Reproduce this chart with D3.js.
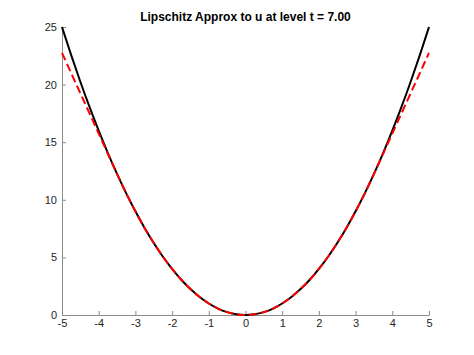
<!DOCTYPE html>
<html>
<head>
<meta charset="utf-8">
<script src="https://cdn.jsdelivr.net/npm/d3@7"></script>
<style>
  body { margin: 0; background: #fff; }
  svg { display: block; }
</style>
</head>
<body>
<script>
// sample points along x
var xs = [-5, -4.75, -4.5, -4.25, -4, -3.75, -3.5, -3.25, -3, -2.75, -2.5, -2.25, -2, -1.75, -1.5, -1.25, -1, -0.75, -0.5, -0.25,
          0, 0.25, 0.5, 0.75, 1, 1.25, 1.5, 1.75, 2, 2.25, 2.5, 2.75, 3, 3.25, 3.5, 3.75, 4, 4.25, 4.5, 4.75, 5];
// u (black solid)
var uVals = [25, 22.56, 20.25, 18.06, 16, 14.06, 12.25, 10.56, 9, 7.56, 6.25, 5.06, 4, 3.06, 2.25, 1.56, 1, 0.56, 0.25, 0.06,
             0, 0.06, 0.25, 0.56, 1, 1.56, 2.25, 3.06, 4, 5.06, 6.25, 7.56, 9, 10.56, 12.25, 14.06, 16, 18.06, 20.25, 22.56, 25];
// Lipschitz approx (red dashed)
var approxVals = [22.75, 21, 19.25, 17.5, 15.75, 14, 12.25, 10.56, 9, 7.56, 6.25, 5.06, 4, 3.06, 2.25, 1.56, 1, 0.56, 0.25, 0.06,
                  0, 0.06, 0.25, 0.56, 1, 1.56, 2.25, 3.06, 4, 5.06, 6.25, 7.56, 9, 10.56, 12.25, 14, 15.75, 17.5, 19.25, 21, 22.75];
var xTicks = [-5, -4, -3, -2, -1, 0, 1, 2, 3, 4, 5];
var yTicks = [0, 5, 10, 15, 20, 25];
var title = "Lipschitz Approx to u at level t = 7.00";

var width = 474, height = 355;
var margin = {top: 27, right: 45, bottom: 40, left: 62};

var svg = d3.select("body").append("svg")
    .attr("width", width)
    .attr("height", height);

var x = d3.scaleLinear()
    .domain([-5, 5])
    .range([margin.left, width - margin.right]);

var y = d3.scaleLinear()
    .domain([0, 25])
    .range([height - margin.bottom, margin.top]);

var line = d3.line()
    .x(d => x(d.x))
    .y(d => y(d.y))
    .curve(d3.curveMonotoneX);

var uData = xs.map((v, i) => ({x: v, y: uVals[i]}));
var approxData = xs.map((v, i) => ({x: v, y: approxVals[i]}));

// plain hyphen for negatives, like the original
var fmt = d => String(d);

//axes
var xAxis = g => g
    .attr("transform", `translate(0,${height - margin.bottom})`)
    .call(d3.axisBottom(x).tickValues(xTicks).tickFormat(fmt).tickSizeInner(-4).tickSizeOuter(0).tickPadding(4));

var yAxis = g => g
    .attr("transform", `translate(${margin.left},0)`)
    .call(d3.axisLeft(y).tickValues(yTicks).tickFormat(fmt).tickSizeInner(-4).tickSizeOuter(0).tickPadding(5));

[xAxis, yAxis].forEach(function(ax) {
  svg.append("g")
      .call(ax)
      .call(g => g.selectAll(".domain, .tick line").attr("stroke", "#8c8c8c").attr("stroke-width", 1))
      .call(g => g.selectAll(".tick text")
          .attr("fill", "#262626")
          .style("font-family", "'Liberation Sans', Arial, sans-serif")
          .style("font-size", "11px"));
});

svg.append("path")
    .datum(uData)
    .attr("fill", "none")
    .attr("stroke", "#000")
    .attr("stroke-width", 2)
    .attr("d", line);

svg.append("path")
    .datum(approxData)
    .attr("fill", "none")
    .attr("stroke", "#ff0000")
    .attr("stroke-width", 2)
    .attr("stroke-dasharray", "8,4")
    .attr("d", line);

//title
svg.append("text")
    .attr("x", (margin.left + width - margin.right) / 2)
    .attr("y", 21)
    .attr("text-anchor", "middle")
    .style("font-family", "'Liberation Sans', Arial, sans-serif")
    .style("font-size", "12px")
    .style("font-weight", "bold")
    .attr("fill", "#000")
    .text(title);
</script>
</body>
</html>
